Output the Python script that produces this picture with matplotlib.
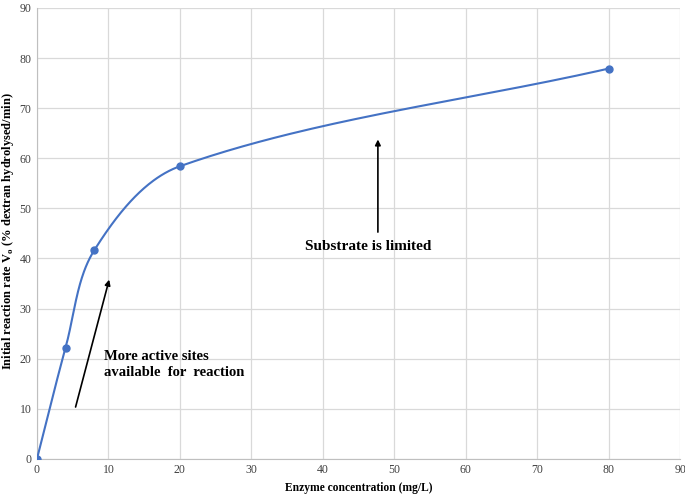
import numpy as np
import matplotlib
matplotlib.use("Agg")
import matplotlib.pyplot as plt

plt.rcParams['font.family'] = ['Liberation Serif', 'DejaVu Serif']

# data
enzyme = [0, 4, 8, 20, 80]
rate = [0, 22.2, 41.6, 58.4, 77.9]
xticks = list(range(0, 100, 10))
yticks = list(range(0, 100, 10))

fig = plt.figure(figsize=(6.85, 4.96), dpi=100)
ax = fig.add_axes([0.054, 0.075, 0.939, 0.909])

# smooth line like excel: bezier through the points in pixel-ish space,
# control arms scaled by the neighbouring segment lengths
sx, sy = 643 / 90, 451 / 90
P = np.column_stack([np.array(enzyme) * sx, np.array(rate) * sy])
n = len(P)

def arm(i, toward):
    # tangent at point i, scaled for the segment going to `toward`
    a = P[max(i - 1, 0)]
    b = P[min(i + 1, n - 1)]
    d_prev = np.linalg.norm(P[i] - a)
    d_next = np.linalg.norm(b - P[i])
    d_seg = d_next if toward > i else d_prev
    tot = d_prev + d_next
    if tot == 0:
        return np.zeros(2)
    return (b - a) * d_seg / tot / 3

curve = []
for i in range(n - 1):
    p1, p2 = P[i], P[i + 1]
    c1 = p1 + arm(i, i + 1)
    c2 = p2 - arm(i + 1, i)
    t = np.linspace(0, 1, 80)[:, None]
    seg = (1 - t) ** 3 * p1 + 3 * (1 - t) ** 2 * t * c1 + 3 * (1 - t) * t ** 2 * c2 + t ** 3 * p2
    curve.append(seg)
curve = np.vstack(curve)
ax.plot(curve[:, 0] / sx, curve[:, 1] / sy, color='#4472C4', lw=1.5, zorder=3)
ax.plot(enzyme, rate, 'o', color='#4472C4', ms=5, zorder=4)

ax.set_xlim(0, 90)
ax.set_ylim(0, 90)
ax.set_xticks(xticks)
ax.set_yticks(yticks)
ax.grid(color='#d9d9d9', lw=0.9)
ax.set_axisbelow(True)
for s in ['top', 'right']:
    ax.spines[s].set_visible(False)
for s in ['left', 'bottom']:
    ax.spines[s].set_color('#bfbfbf')
ax.tick_params(length=0, labelsize=8.5, colors='#404040', pad=4)

ax.set_xlabel('Enzyme concentration (mg/L)', fontsize=8.3, fontweight='bold', labelpad=4)
fig.text(8 / 685, 1 - 231 / 496,
         'Initial reaction rate V$_\\mathregular{o}$ (% dextran hydrolysed/min)',
         rotation=90, fontsize=9, fontweight='bold', ha='center', va='center')

ax.annotate('', xy=(10.2, 36.3), xytext=(5.3, 9.8),
            arrowprops=dict(arrowstyle='-|>', color='black', lw=1.2, mutation_scale=8))
ax.text(9.4, 18.8, 'More active sites\navailable  for  reaction', fontsize=10.5,
        fontweight='bold', va='center', ha='left', linespacing=1.25)

ax.annotate('', xy=(47.7, 64.3), xytext=(47.7, 44.7),
            arrowprops=dict(arrowstyle='-|>', color='black', lw=1.2, mutation_scale=8))
ax.text(37.5, 42.3, 'Substrate is limited', fontsize=11, fontweight='bold',
        va='center', ha='left')

fig.savefig('out.png', dpi=100)
